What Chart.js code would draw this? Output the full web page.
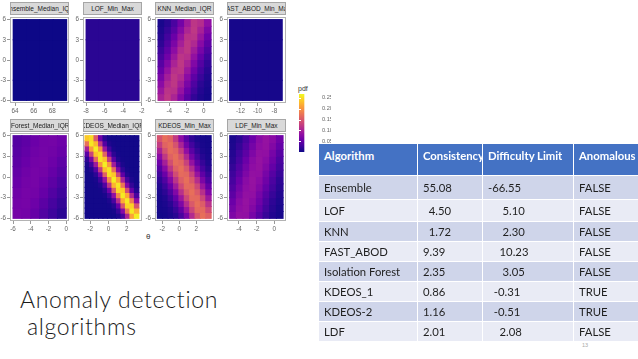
<!DOCTYPE html>
<html>
<head>
<meta charset="utf-8">
<script src="https://cdn.jsdelivr.net/npm/chart.js"></script>
<style>
  body { margin: 0; width: 638px; height: 359px; position: relative; overflow: hidden; background: #fff; }
  .strip { position: absolute; box-sizing: border-box; background: #d9d9d9; border: 1px solid #a6a6a6;
           display: flex; justify-content: center; align-items: center; overflow: hidden; white-space: nowrap;
           font: 6.5px "Liberation Sans", Arial, sans-serif; color: #1a1a1a; }
  .note { position: absolute; font-family: "Liberation Sans", Arial, sans-serif; color: #333; white-space: nowrap; }
  #title { position: absolute; left: 20px; top: 285.5px; font: 300 23px/27px Lato, sans-serif; letter-spacing: 0.7px;
           color: #1a1a1a; white-space: pre; }
  table { position: absolute; left: 318px; top: 143px; border-collapse: collapse; table-layout: fixed;
          font: 11.3px Lato, sans-serif; color: #1f1f1f; }
  td, th { border: 1px solid #fff; padding: 0 0 0 5px; white-space: pre; text-align: left; overflow: hidden; }
  th { background: #4472c4; color: #fff; font-weight: bold; vertical-align: top; padding-top: 5px; height: 26px; }
  td { vertical-align: middle; }
  tr.dark td { background: #cfd5ea; }
  tr.light td { background: #e9ebf5; }
</style>
</head>
<body>
<div id="title">Anomaly detection
 algorithms</div>
<div class="note" style="left:146px;top:232px;font-size:8px">θ</div>
<div class="note" style="left:298px;top:85px;font-size:7px">pdf</div>
<div class="note" style="left:582px;top:342px;font-size:5.5px;color:#aaa">13</div>
<script>
// facet labels, theta range of each raster and its x ticks
const panelNames = ['Ensemble_Median_IQR', 'LOF_Min_Max', 'KNN_Median_IQR', 'FAST_ABOD_Min_Max',
                    'iForest_Median_IQR', 'KDEOS_Median_IQR', 'KDEOS_Min_Max', 'LDF_Min_Max'];
const thetaRange = [[63.8, 69.55], [-8.0, -2.3], [-5.31, 0.86], [-13.3, -7.06],
                    [-6.0, 0.0], [-2.56, 3.33], [-2.58, 3.74], [-5.06, 1.0]];
const xTickValues = [[64, 66, 68], [-8, -6, -4, -2], [-4, -2, 0], [-12, -10, -8],
                     [-6, -4, -2, 0], [-2, 0, 2], [-2, 0, 2], [-4, -2, 0]];
const yRange = [-6, 6];
const yTickValues = [-6, -3, 0, 3, 6];

// pdf, rows from top (y = 6) to bottom (y = -6)
const gridEnsemble = [
  [0.000, 0.000, 0.000, 0.000],
  [0.000, 0.000, 0.000, 0.000],
  [0.000, 0.000, 0.000, 0.000],
  [0.000, 0.000, 0.000, 0.000]
];
const gridLof = [
  [0.015, 0.015, 0.015, 0.015],
  [0.015, 0.015, 0.015, 0.015],
  [0.015, 0.015, 0.015, 0.015],
  [0.015, 0.015, 0.015, 0.015]
];
const gridKnn = [
  [0.006, 0.015, 0.033, 0.060, 0.092, 0.118, 0.110, 0.081],
  [0.009, 0.021, 0.042, 0.073, 0.103, 0.120, 0.099, 0.068],
  [0.012, 0.028, 0.054, 0.086, 0.115, 0.116, 0.088, 0.056],
  [0.017, 0.037, 0.066, 0.097, 0.119, 0.106, 0.075, 0.045],
  [0.024, 0.047, 0.078, 0.108, 0.119, 0.094, 0.063, 0.035],
  [0.032, 0.058, 0.090, 0.117, 0.112, 0.083, 0.051, 0.026],
  [0.041, 0.070, 0.101, 0.120, 0.101, 0.070, 0.040, 0.019],
  [0.052, 0.084, 0.113, 0.117, 0.089, 0.058, 0.031, 0.014],
  [0.064, 0.096, 0.119, 0.107, 0.077, 0.046, 0.023, 0.010],
  [0.077, 0.107, 0.119, 0.096, 0.065, 0.036, 0.016, 0.007],
  [0.089, 0.116, 0.113, 0.085, 0.053, 0.027, 0.012, 0.005],
  [0.100, 0.120, 0.102, 0.071, 0.041, 0.019, 0.009, 0.004]
];
const gridFastAbod = [
  [0.005, 0.005, 0.005, 0.005],
  [0.005, 0.005, 0.005, 0.005],
  [0.005, 0.005, 0.005, 0.005],
  [0.005, 0.005, 0.005, 0.005]
];
const gridIForest = [
  [0.040, 0.046, 0.054, 0.060, 0.061, 0.056],
  [0.042, 0.049, 0.057, 0.061, 0.059, 0.052],
  [0.045, 0.053, 0.060, 0.062, 0.056, 0.046],
  [0.049, 0.057, 0.062, 0.060, 0.051, 0.040],
  [0.053, 0.060, 0.062, 0.056, 0.045, 0.033],
  [0.057, 0.062, 0.060, 0.051, 0.038, 0.026],
  [0.060, 0.062, 0.056, 0.044, 0.031, 0.020],
  [0.062, 0.060, 0.051, 0.038, 0.025, 0.015]
];
const gridKdeosMedian = [
  [0.238, 0.249, 0.154, 0.058, 0.015, 0.004, 0.003, 0.003, 0.003, 0.003, 0.003, 0.003],
  [0.172, 0.257, 0.226, 0.120, 0.039, 0.009, 0.004, 0.003, 0.003, 0.003, 0.003, 0.003],
  [0.098, 0.206, 0.262, 0.197, 0.089, 0.025, 0.006, 0.003, 0.003, 0.003, 0.003, 0.003],
  [0.044, 0.130, 0.234, 0.252, 0.161, 0.063, 0.016, 0.005, 0.003, 0.003, 0.003, 0.003],
  [0.017, 0.065, 0.165, 0.254, 0.232, 0.126, 0.043, 0.010, 0.004, 0.003, 0.003, 0.003],
  [0.007, 0.027, 0.092, 0.200, 0.262, 0.203, 0.095, 0.028, 0.007, 0.003, 0.003, 0.003],
  [0.004, 0.010, 0.041, 0.123, 0.229, 0.255, 0.169, 0.068, 0.018, 0.005, 0.003, 0.003],
  [0.003, 0.004, 0.016, 0.061, 0.158, 0.251, 0.236, 0.133, 0.047, 0.011, 0.004, 0.003],
  [0.003, 0.003, 0.006, 0.024, 0.086, 0.193, 0.261, 0.209, 0.101, 0.030, 0.008, 0.003],
  [0.003, 0.003, 0.004, 0.009, 0.038, 0.117, 0.224, 0.257, 0.176, 0.073, 0.020, 0.005],
  [0.003, 0.003, 0.003, 0.004, 0.015, 0.056, 0.151, 0.247, 0.241, 0.140, 0.050, 0.012],
  [0.003, 0.003, 0.003, 0.003, 0.006, 0.022, 0.081, 0.187, 0.260, 0.215, 0.107, 0.033],
  [0.003, 0.003, 0.003, 0.003, 0.003, 0.008, 0.034, 0.111, 0.218, 0.259, 0.182, 0.078],
  [0.003, 0.003, 0.003, 0.003, 0.003, 0.004, 0.013, 0.053, 0.147, 0.245, 0.243, 0.147],
  [0.003, 0.003, 0.003, 0.003, 0.003, 0.003, 0.005, 0.021, 0.075, 0.179, 0.259, 0.220],
  [0.003, 0.003, 0.003, 0.003, 0.003, 0.003, 0.003, 0.008, 0.032, 0.104, 0.213, 0.261]
];
const gridKdeosMinMax = [
  [0.145, 0.169, 0.159, 0.123, 0.079, 0.042, 0.018, 0.008, 0.005, 0.004],
  [0.124, 0.160, 0.168, 0.145, 0.102, 0.059, 0.029, 0.013, 0.006, 0.004],
  [0.100, 0.143, 0.168, 0.161, 0.126, 0.081, 0.043, 0.020, 0.008, 0.005],
  [0.077, 0.121, 0.158, 0.169, 0.147, 0.105, 0.061, 0.030, 0.013, 0.006],
  [0.056, 0.097, 0.141, 0.168, 0.162, 0.129, 0.084, 0.045, 0.021, 0.009],
  [0.039, 0.075, 0.119, 0.157, 0.170, 0.149, 0.108, 0.064, 0.031, 0.014],
  [0.026, 0.054, 0.095, 0.139, 0.167, 0.163, 0.131, 0.087, 0.047, 0.022],
  [0.017, 0.037, 0.073, 0.116, 0.155, 0.170, 0.150, 0.111, 0.066, 0.033],
  [0.010, 0.024, 0.052, 0.093, 0.136, 0.166, 0.164, 0.135, 0.089, 0.049],
  [0.007, 0.016, 0.035, 0.070, 0.114, 0.153, 0.170, 0.152, 0.113, 0.068],
  [0.005, 0.010, 0.023, 0.050, 0.090, 0.134, 0.166, 0.165, 0.134, 0.091],
  [0.004, 0.007, 0.015, 0.034, 0.067, 0.111, 0.151, 0.170, 0.154, 0.115],
  [0.004, 0.005, 0.010, 0.022, 0.047, 0.088, 0.132, 0.165, 0.166, 0.137],
  [0.003, 0.004, 0.007, 0.014, 0.032, 0.064, 0.108, 0.148, 0.170, 0.157]
];
const gridLdf = [
  [0.007, 0.015, 0.031, 0.054, 0.076, 0.085, 0.077, 0.057],
  [0.009, 0.020, 0.038, 0.061, 0.080, 0.084, 0.071, 0.050],
  [0.012, 0.025, 0.045, 0.068, 0.083, 0.082, 0.063, 0.041],
  [0.015, 0.031, 0.054, 0.076, 0.085, 0.077, 0.057, 0.034],
  [0.020, 0.038, 0.061, 0.080, 0.084, 0.071, 0.050, 0.028],
  [0.025, 0.045, 0.068, 0.083, 0.082, 0.063, 0.041, 0.022],
  [0.031, 0.054, 0.076, 0.085, 0.077, 0.057, 0.034, 0.017],
  [0.038, 0.061, 0.080, 0.084, 0.071, 0.050, 0.028, 0.014],
  [0.045, 0.068, 0.083, 0.082, 0.063, 0.041, 0.022, 0.011],
  [0.054, 0.076, 0.085, 0.077, 0.057, 0.034, 0.017, 0.008],
  [0.061, 0.080, 0.084, 0.071, 0.050, 0.028, 0.014, 0.006],
  [0.068, 0.083, 0.082, 0.063, 0.041, 0.022, 0.011, 0.005]
];
const panelGrids = [gridEnsemble, gridLof, gridKnn, gridFastAbod,
                    gridIForest, gridKdeosMedian, gridKdeosMinMax, gridLdf];

// colour bar
const pdfLimits = [0, 0.268];
const legendTicks = [0.05, 0.10, 0.15, 0.20, 0.25];

// table
const tableHeader = ['Algorithm', 'Consistency', 'Difficulty Limit', 'Anomalous'];
const algorithms = ['Ensemble', 'LOF', 'KNN', 'FAST_ABOD', 'Isolation Forest', 'KDEOS_1', 'KDEOS-2', 'LDF'];
const consistency = ['55.08', '  4.50', '  1.72', '9.39', '2.35', '0.86', '1.16', '2.01'];
const difficultyLimit = ['-66.55', '     5.10', '     2.30', '    10.23', '     3.05', '  -0.31', '  -0.51', '    2.08'];
const anomalous = ['FALSE', 'FALSE', 'FALSE', 'FALSE', 'FALSE', 'TRUE', 'TRUE', 'FALSE'];

// ---- layout ----
const axisLimits = [[63.46, 69.8], [-8.33, -1.98], [-5.66, 1.2], [-13.6, -6.62],
                    [-6.34, 0.3], [-2.78, 3.67], [-2.85, 4.07], [-5.36, 1.33]];
const frameLeft = [10, 83, 155, 227];
const frameWidth = 59;
const frameTop = [17, 133];
const frameHeight = [86, 88];
const stripTop = [2, 119];
const colWidths = [99, 65, 91, 70];
const rowHeights = [24, 22, 20, 20, 20, 20, 20, 20];

const plasma = ['#0d0887', '#41049d', '#6a00a8', '#8f0da4', '#b12a90', '#cc4778',
                '#e16462', '#f2844b', '#fca636', '#fcce25', '#f0f921'];

function hexRgb(h) {
  return [1, 3, 5].map(i => parseInt(h.substr(i, 2), 16));
}

function pdfColour(v) {
  const t = Math.max(0, Math.min(1, (v - pdfLimits[0]) / (pdfLimits[1] - pdfLimits[0])));
  const p = t * (plasma.length - 1);
  const i = Math.min(Math.floor(p), plasma.length - 2);
  const f = p - i;
  const a = hexRgb(plasma[i]), b = hexRgb(plasma[i + 1]);
  const c = a.map((x, k) => Math.round(x + (b[k] - x) * f));
  return `rgb(${c[0]},${c[1]},${c[2]})`;
}

function makeCanvas(left, top, w, h) {
  const c = document.createElement('canvas');
  c.width = w;
  c.height = h;
  c.style.cssText = `position:absolute;left:${left}px;top:${top}px;width:${w}px;height:${h}px`;
  document.body.appendChild(c);
  return c;
}

Chart.defaults.font.family = '"Liberation Sans", Arial, sans-serif';

const panelFrame = {
  id: 'panelFrame',
  afterDraw(chart) {
    const a = chart.chartArea, ctx = chart.ctx;
    ctx.save();
    ctx.strokeStyle = '#b3b3b3';
    ctx.lineWidth = 1;
    ctx.strokeRect(Math.round(a.left) + 0.5, Math.round(a.top) + 0.5,
                   Math.round(a.right - a.left) - 1, Math.round(a.bottom - a.top) - 1);
    ctx.restore();
  }
};

const tickFont = { size: 6.3 };

panelNames.forEach((name, i) => {
  const row = Math.floor(i / 4), col = i % 4;
  const bx = frameLeft[col], by = frameTop[row], bh = frameHeight[row];

  const strip = document.createElement('div');
  strip.className = 'strip';
  strip.style.cssText = `left:${bx}px;top:${stripTop[row]}px;width:${frameWidth}px;height:13px`;
  strip.innerHTML = `<span>${name}</span>`;
  document.body.appendChild(strip);

  const grid = panelGrids[i], theta = thetaRange[i];
  const nr = grid.length, nc = grid[0].length;
  const cw = (theta[1] - theta[0]) / nc, ch = (yRange[1] - yRange[0]) / nr;
  const datasets = grid.map((vals, r) => ({
    data: vals.map((v, c) => ({ x: theta[0] + (c + 0.5) * cw, y: [yRange[1] - (r + 1) * ch, yRange[1] - r * ch] })),
    backgroundColor: vals.map(pdfColour),
    borderWidth: 0,
    barPercentage: 1,
    categoryPercentage: 1,
    grouped: false,
    inflateAmount: 0.5
  }));

  const cv = makeCanvas(bx - 12, by - 1, 12 + frameWidth + 5, 1 + bh + 12);
  new Chart(cv, {
    type: 'bar',
    data: { datasets },
    options: {
      responsive: false,
      animation: false,
      devicePixelRatio: 1,
      events: [],
      layout: { padding: { top: 1, right: 5, left: 0, bottom: 0 } },
      plugins: { legend: { display: false }, tooltip: { enabled: false } },
      scales: {
        x: {
          type: 'linear',
          offset: false,
          min: axisLimits[i][0],
          max: axisLimits[i][1],
          afterBuildTicks: s => { s.ticks = xTickValues[i].map(v => ({ value: v })); },
          afterFit: s => { s.height = 12; s.paddingLeft = 0; s.paddingRight = 0; },
          ticks: { font: tickFont, color: '#666', padding: 1, maxRotation: 0, autoSkip: false },
          grid: { offset: false, drawOnChartArea: false, tickLength: 3, color: '#999' },
          border: { display: false }
        },
        y: {
          type: 'linear',
          min: -6.38,
          max: 6.38,
          afterBuildTicks: s => { s.ticks = yTickValues.map(v => ({ value: v })); },
          afterFit: s => { s.width = 12; s.paddingTop = 0; s.paddingBottom = 0; },
          ticks: { font: tickFont, color: '#666', padding: 1, autoSkip: false },
          grid: { drawOnChartArea: false, tickLength: 3, color: '#999' },
          border: { display: false }
        }
      }
    },
    plugins: [panelFrame]
  });
});

// colour bar legend
const barTicks = {
  id: 'barTicks',
  afterDatasetsDraw(chart) {
    const a = chart.chartArea, ctx = chart.ctx, y = chart.scales.y;
    ctx.save();
    ctx.strokeStyle = '#fff';
    ctx.lineWidth = 1;
    legendTicks.forEach(v => {
      const py = Math.round(y.getPixelForValue(v)) + 0.5;
      ctx.beginPath();
      ctx.moveTo(a.left, py); ctx.lineTo(a.left + 2, py);
      ctx.moveTo(a.right - 2, py); ctx.lineTo(a.right, py);
      ctx.stroke();
    });
    ctx.restore();
  }
};

const legendCanvas = makeCanvas(299, 93, 32, 60);
new Chart(legendCanvas, {
  type: 'bar',
  data: {
    labels: [''],
    datasets: [{
      data: [pdfLimits],
      borderWidth: 0,
      barPercentage: 1,
      categoryPercentage: 1,
      backgroundColor: ctx => {
        const chart = ctx.chart, y = chart.scales.y;
        if (!chart.chartArea || !y) return plasma[0];
        const g = chart.ctx.createLinearGradient(0, y.getPixelForValue(pdfLimits[0]), 0, y.getPixelForValue(pdfLimits[1]));
        plasma.forEach((c, k) => g.addColorStop(k / (plasma.length - 1), c));
        return g;
      }
    }]
  },
  options: {
    responsive: false,
    animation: false,
    devicePixelRatio: 1,
    events: [],
    layout: { padding: { top: 1, bottom: 1, left: 0, right: 0 } },
    plugins: { legend: { display: false }, tooltip: { enabled: false } },
    scales: {
      x: { display: false, offset: false },
      y: {
        position: 'right',
        min: pdfLimits[0],
        max: pdfLimits[1],
        afterBuildTicks: s => { s.ticks = legendTicks.map(v => ({ value: v })); },
        afterFit: s => { s.width = 22; s.paddingTop = 0; s.paddingBottom = 0; },
        ticks: { font: { size: 5.6 }, color: '#666', padding: 5, callback: v => v.toFixed(2) },
        grid: { display: false },
        border: { display: false }
      }
    }
  },
  plugins: [barTicks]
});

// results table
const table = document.createElement('table');
let html = '<colgroup>' + colWidths.map(w => `<col style="width:${w}px">`).join('') + '</colgroup>';
html += '<tr>' + tableHeader.map(h => `<th>${h}</th>`).join('') + '</tr>';
algorithms.forEach((a, r) => {
  html += `<tr class="${r % 2 === 0 ? 'dark' : 'light'}" style="height:${rowHeights[r]}px">` +
    [a, consistency[r], difficultyLimit[r], anomalous[r]].map(v => `<td>${v}</td>`).join('') + '</tr>';
});
table.innerHTML = html;
table.style.width = colWidths.reduce((s, w) => s + w, 0) + 'px';
document.body.appendChild(table);
</script>
</body>
</html>
